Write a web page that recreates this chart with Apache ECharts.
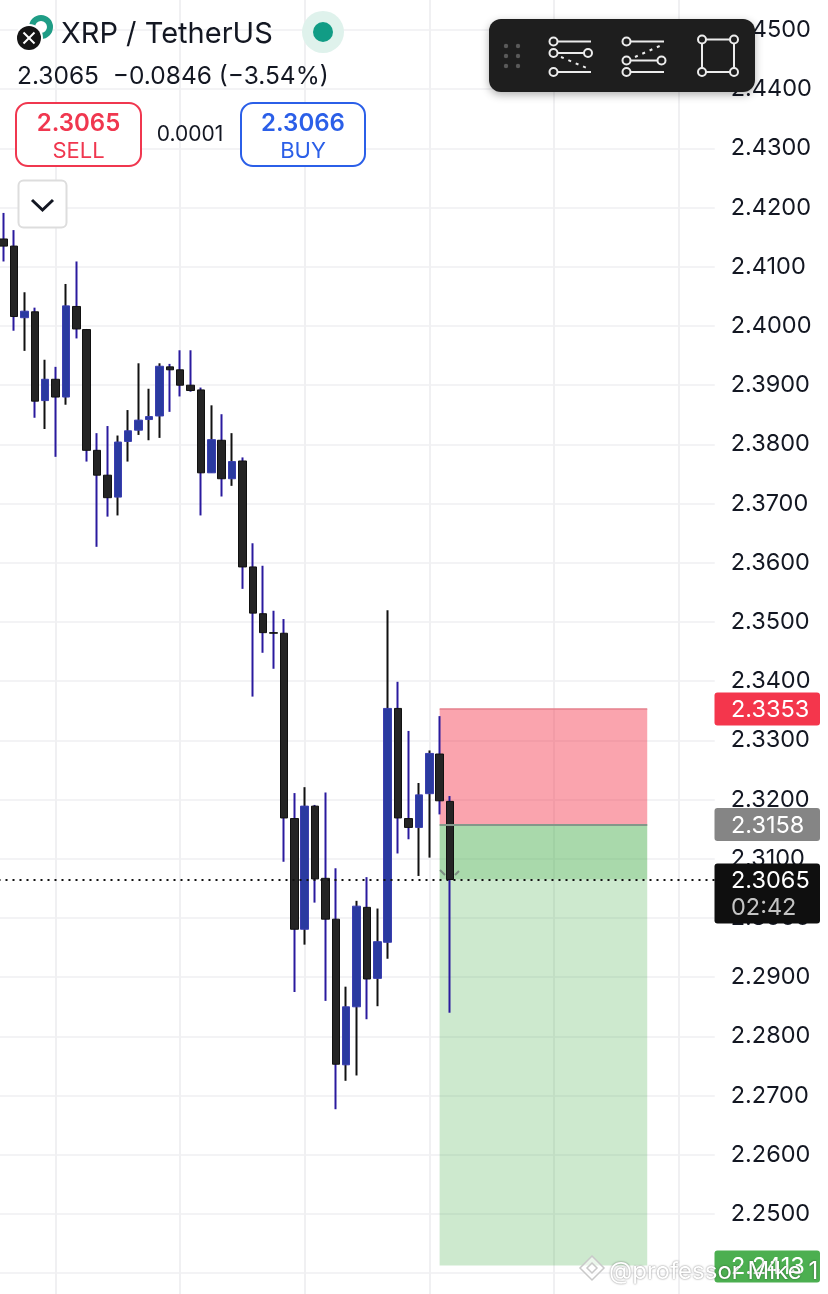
<!DOCTYPE html>
<html>
<head>
<meta charset="utf-8">
<title>XRP / TetherUS</title>
<script src="https://cdn.jsdelivr.net/npm/echarts@6/dist/echarts.min.js"></script>
<style>
html, body { margin: 0; padding: 0; background: #fff; }
#main { width: 828px; height: 1294px; }
</style>
</head>
<body>
<div id="main"></div>
<script>
// price data
var opens = [2.4147, 2.4135, 2.4014, 2.4024, 2.3874, 2.3910, 2.3880, 2.4033, 2.3994, 2.3790, 2.3748,
	2.3711, 2.3805, 2.3824, 2.3842, 2.3848, 2.3931, 2.3926, 2.3900, 2.3892, 2.3752, 2.3807,
	2.3742, 2.3772, 2.3593, 2.3514, 2.3482, 2.3481, 2.3168, 2.2981, 2.3189, 2.3067, 2.2998,
	2.2752, 2.2850, 2.3018, 2.2898, 2.2959, 2.3354, 2.3168, 2.3153, 2.3210, 2.3277, 2.3197];
var closes = [2.4135, 2.4016, 2.4025, 2.3873, 2.3910, 2.3880, 2.4034, 2.3995, 2.3790, 2.3748, 2.3710,
	2.3804, 2.3823, 2.3841, 2.3847, 2.3932, 2.3926, 2.3900, 2.3891, 2.3752, 2.3808, 2.3742,
	2.3771, 2.3593, 2.3515, 2.3482, 2.3481, 2.3169, 2.2981, 2.3189, 2.3066, 2.2998, 2.2753,
	2.2850, 2.3020, 2.2897, 2.2960, 2.3354, 2.3169, 2.3153, 2.3208, 2.3278, 2.3198, 2.3065];
var lows = [2.4109, 2.3992, 2.3958, 2.3845, 2.3826, 2.3779, 2.3867, 2.3979, 2.3771, 2.3627, 2.3678,
	2.3680, 2.3771, 2.3816, 2.3807, 2.3811, 2.3855, 2.3881, 2.3889, 2.3680, 2.3752, 2.3712,
	2.3730, 2.3556, 2.3374, 2.3448, 2.3421, 2.3095, 2.2875, 2.2955, 2.3026, 2.2860, 2.2677,
	2.2725, 2.2734, 2.2829, 2.2851, 2.2931, 2.3109, 2.3133, 2.3071, 2.3102, 2.3175, 2.2840];
var highs = [2.4191, 2.4162, 2.4057, 2.4031, 2.3943, 2.3931, 2.4071, 2.4109, 2.3995, 2.3819, 2.3831,
	2.3815, 2.3858, 2.3937, 2.3894, 2.3937, 2.3936, 2.3959, 2.3959, 2.3896, 2.3866, 2.3851,
	2.3819, 2.3778, 2.3633, 2.3595, 2.3519, 2.3505, 2.3211, 2.3221, 2.3191, 2.3212, 2.3084,
	2.2884, 2.3029, 2.3069, 2.3016, 2.3520, 2.3399, 2.3316, 2.3228, 2.3283, 2.3341, 2.3206];

var barSlots = 69; // empty slots on the right included
var lastPrice = 2.3065;
var stopPrice = 2.3353;
var entryPrice = 2.3158;
var targetPrice = 2.2413;
var boxFrom = 42, boxTo = 62; // bar index of the position box
var countdown = '02:42';

var categories = [], wickData = [], bodyData = [];
for (var i = 0; i < barSlots; i++) categories.push(String(i));
for (var k = 0; k < opens.length; k++) {
	wickData.push([opens[k], closes[k], lows[k], highs[k]]);
	bodyData.push([opens[k], closes[k], Math.min(opens[k], closes[k]), Math.max(opens[k], closes[k])]);
}

var FONT = 'Inter, "Noto Sans", sans-serif';
var INK = '#131722', RED = '#f0374f', BLUE = '#2b5fe8', DARK = '#1e1e1e';

var myChart = echarts.init(document.getElementById('main'), null, { renderer: 'canvas' });

myChart.setOption({
	animation: false,
	backgroundColor: '#fff',
	grid: { left: -1.5, width: 716.2, top: -29.2, height: 1361.6, outerBoundsMode: 'none' },
	xAxis: {
		type: 'category',
		data: categories,
		axisLine: { show: false },
		axisTick: { show: false },
		axisLabel: { show: false },
		splitLine: {
			show: true,
			alignWithLabel: true,
			interval: function(idx) { return (idx - 5) % 12 === 0; },
			lineStyle: { color: '#f0f0f2', width: 2 }
		}
	},
	yAxis: {
		type: 'value',
		position: 'right',
		min: 2.23,
		max: 2.46,
		interval: 0.01,
		axisLine: { show: false },
		axisTick: { show: false },
		axisLabel: {
			margin: 16,
			padding: [4, 0, 0, 0],
			color: INK,
			fontFamily: FONT,
			fontSize: 23.5,
			formatter: function(v) { return v.toFixed(4); }
		},
		splitLine: { show: true, lineStyle: { color: '#f3f3f5', width: 2 } }
	},
	series: [
		{
			// position box behind the candles
			type: 'line',
			z: 1,
			data: [],
			markArea: {
				silent: true,
				data: [
					[{ xAxis: boxFrom, yAxis: stopPrice, itemStyle: { color: 'rgba(244,54,76,0.45)' } }, { xAxis: boxTo, yAxis: entryPrice }],
					[{ xAxis: boxFrom, yAxis: entryPrice, itemStyle: { color: 'rgba(76,175,80,0.48)' } }, { xAxis: boxTo, yAxis: lastPrice }],
					[{ xAxis: boxFrom, yAxis: lastPrice, itemStyle: { color: 'rgba(76,175,80,0.28)' } }, { xAxis: boxTo, yAxis: targetPrice }]
				]
			},
			markLine: {
				silent: true,
				symbol: 'none',
				label: { show: false },
				data: [
					[{ xAxis: boxFrom, yAxis: stopPrice, lineStyle: { color: '#e5808c', width: 1.5, type: 'solid' } }, { xAxis: boxTo, yAxis: stopPrice }],
					[{ xAxis: boxFrom, yAxis: entryPrice, lineStyle: { color: '#83988a', width: 2, type: 'solid' } }, { xAxis: boxTo, yAxis: entryPrice }]
				]
			}
		},
		{
			// wicks take the opposite colour of the body
			type: 'candlestick',
			z: 2,
			barWidth: 1,
			data: wickData,
			itemStyle: { color: '#111', color0: '#2a1a9e', borderColor: '#111', borderColor0: '#2a1a9e', borderWidth: 2 }
		},
		{
			type: 'candlestick',
			z: 3,
			barWidth: 8,
			barGap: '-100%',
			data: bodyData,
			itemStyle: { color: '#2a3aa0', color0: '#242424', borderColor: '#3b3eb0', borderColor0: '#111', borderWidth: 1 }
		},
		{
			// dotted last price line, precision defaults to 2 and moves it off the price
			type: 'line',
			z: 4,
			data: [],
			markLine: {
				silent: true,
				symbol: 'none',
				precision: 4,
				label: { show: false },
				lineStyle: { color: '#111', width: 2, type: [2, 5] },
				data: [{ yAxis: lastPrice }]
			}
		}
	]
});

// everything that is not part of the plot
function text(x, y, str, size, color, align, weight) {
	return {
		type: 'text', z: 100, silent: true,
		style: { x: x, y: y + 1, text: str, fontFamily: FONT, fontSize: size, fill: color, align: align || 'left', verticalAlign: 'middle', fontWeight: weight || 'normal' }
	};
}
function rect(x, y, w, h, r, fill, stroke, lw, extra) {
	var style = { fill: fill, stroke: stroke || null, lineWidth: lw || 0 };
	for (var key in extra) style[key] = extra[key];
	return { type: 'rect', z: 100, silent: true, shape: { x: x, y: y, width: w, height: h, r: r }, style: style };
}
function circle(cx, cy, r, fill, stroke, lw) {
	return { type: 'circle', z: 101, silent: true, shape: { cx: cx, cy: cy, r: r }, style: { fill: fill, stroke: stroke || null, lineWidth: lw || 0 } };
}
function line(pts, color, lw, dash, z) {
	return { type: 'polyline', z: z || 100, silent: true, shape: { points: pts }, style: { fill: null, stroke: color, lineWidth: lw, lineDash: dash || null } };
}
function diamond(cx, cy, r, fill, stroke) {
	return {
		type: 'polygon', z: 102, silent: true,
		shape: { points: [[cx, cy - r], [cx + r, cy], [cx, cy + r], [cx - r, cy]] },
		style: { fill: fill, stroke: stroke, lineWidth: 1.5 }
	};
}
function priceY(p) {
	return myChart.convertToPixel({ yAxisIndex: 0 }, p);
}

var els = [];
// symbol icons and title
els.push(circle(41, 27, 9, '#fff', '#1f9d86', 6));
els.push(text(41, 25, 'T', 11, '#1f9d86', 'center', 'bold'));
els.push(circle(29, 38, 14, '#fff'));
els.push(circle(29, 38, 12, '#151515'));
els.push(line([[23.5, 32.5], [34.5, 43.5]], '#fff', 2, null, 102));
els.push(line([[34.5, 32.5], [23.5, 43.5]], '#fff', 2, null, 102));
els.push(text(61, 33, 'XRP / TetherUS', 29, '#131722'));
els.push(circle(323, 32, 21, '#dff2ec'));
els.push(circle(323, 32, 10, '#119c85'));
els.push(text(17, 76, '2.3065  \u22120.0846 (\u22123.54%)', 24.5, '#131722'));

// buy and sell buttons
els.push(rect(16, 103, 125, 63, 12, '#fff', RED, 2));
els.push(text(78.5, 123, '2.3065', 24, RED, 'center', 600));
els.push(text(78.5, 150, 'SELL', 22, RED, 'center'));
els.push(text(190, 134, '0.0001', 21, '#131722', 'center'));
els.push(rect(241, 103, 124, 63, 12, '#fff', BLUE, 2));
els.push(text(303, 123, '2.3066', 24, BLUE, 'center', 600));
els.push(text(303, 150, 'BUY', 22, BLUE, 'center'));
els.push(rect(18.5, 180.5, 48, 47, 5, '#fff', '#ddd', 2));
els.push(line([[32, 200], [42.5, 210], [53, 200]], '#131722', 3, null, 101));

// floating toolbar
els.push(rect(489, 19, 266, 73, 12, DARK, null, 0, { shadowBlur: 8, shadowColor: 'rgba(0,0,0,0.3)', shadowOffsetY: 3 }));
[506, 518].forEach(function(dx) {
	[46, 56, 66].forEach(function(dy) { els.push(circle(dx, dy, 2.2, '#5a5a5a')); });
});
var ICON = '#ececec';
els.push(line([[554, 41.5], [591, 41.5]], ICON, 2, null, 101));
els.push(line([[554, 53], [588, 53]], ICON, 2, null, 101));
els.push(line([[561, 57], [589, 69]], ICON, 2, [3, 5], 101));
els.push(line([[554, 72], [591, 72]], ICON, 2, null, 101));
els.push(circle(553.5, 41.5, 4, DARK, ICON, 2), circle(553.5, 53, 4, DARK, ICON, 2), circle(588, 53, 4, DARK, ICON, 2), circle(553.5, 72, 4, DARK, ICON, 2));
els.push(line([[626, 41.5], [664, 41.5]], ICON, 2, null, 101));
els.push(line([[635, 57], [663, 44.5]], ICON, 2, [3, 5], 101));
els.push(line([[626, 60.5], [661, 60.5]], ICON, 2, null, 101));
els.push(line([[626, 72], [664, 72]], ICON, 2, null, 101));
els.push(circle(626.5, 41.5, 4, DARK, ICON, 2), circle(626.5, 60.5, 4, DARK, ICON, 2), circle(661.5, 60.5, 4, DARK, ICON, 2), circle(626.5, 72, 4, DARK, ICON, 2));
els.push(line([[702, 39.5], [734, 39.5], [734, 72], [702, 72], [702, 39.5]], ICON, 2, null, 101));
els.push(circle(702, 39.5, 4, DARK, ICON, 2), circle(734, 39.5, 4, DARK, ICON, 2), circle(702, 72, 4, DARK, ICON, 2), circle(734, 72, 4, DARK, ICON, 2));

// little arrow of the drawing behind the last candle
els.push(line([[440, 870], [445, 875]], '#7d8f82', 2));
els.push(line([[455, 875], [459, 871]], '#7d8f82', 2));

// price tags on the axis
var stopY = priceY(stopPrice), entryY = priceY(entryPrice), lastY = priceY(lastPrice), targetY = priceY(targetPrice);
els.push(rect(714.5, stopY - 16.5, 105.5, 33, 3, '#f4364c'));
els.push(text(731, stopY, stopPrice.toFixed(4), 23.5, '#fff'));
els.push(rect(714.5, entryY - 16.5, 105.5, 33, 3, '#858585'));
els.push(text(731, entryY, entryPrice.toFixed(4), 23.5, '#fff'));
els.push(rect(714.5, lastY - 16, 105.5, 60, 3, '#0f0f0f'));
els.push(text(731, lastY, lastPrice.toFixed(4), 23.5, '#fff'));
els.push(text(731, lastY + 27, countdown, 23.5, '#c4c4c4'));
els.push(rect(714.5, targetY - 15, 105.5, 32, 3, '#4caf50'));
els.push(text(731, targetY, targetPrice.toFixed(4), 23.5, '#fff'));

// watermark
els.push(diamond(592, 1268, 12, 'rgba(255,255,255,0.6)', '#c9c9c9'));
els.push(diamond(592, 1268, 5, 'rgba(255,255,255,0.6)', '#c9c9c9'));
els.push({
	type: 'text', z: 102, silent: true,
	style: { x: 609, y: 1272, text: '@professor Mike 1', fontFamily: FONT, fontSize: 24, fill: '#fff', verticalAlign: 'middle', textShadowColor: 'rgba(0,0,0,0.55)', textShadowBlur: 2 }
});

myChart.setOption({ graphic: { elements: els } });
</script>
</body>
</html>
